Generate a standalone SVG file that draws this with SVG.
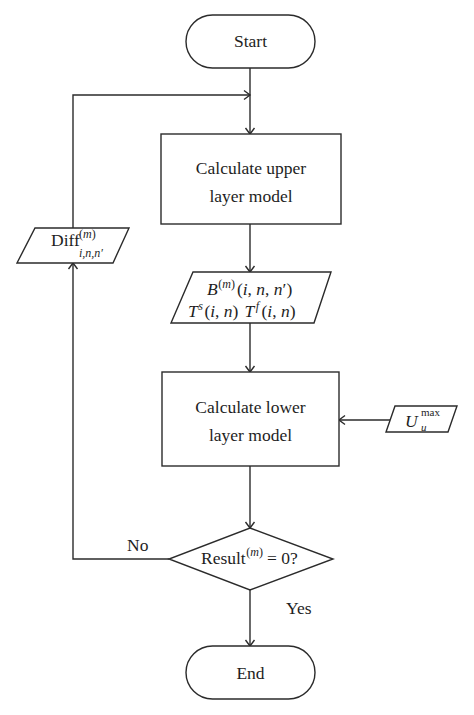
<svg xmlns="http://www.w3.org/2000/svg" width="474" height="715" viewBox="0 0 474 715">
<defs>
<style>
.s{fill:#fff;stroke:#2b2b2b;stroke-width:1.4}
.c{fill:none;stroke:#2b2b2b;stroke-width:1.4}
text{font-family:"Liberation Serif","Times New Roman",serif;font-size:17.5px;fill:#1e1e1e}
.i{font-style:italic}
.sm{font-size:12px}
.xs{font-size:11px}
</style>
<marker id="a" markerUnits="userSpaceOnUse" markerWidth="12" markerHeight="12" refX="9" refY="6" orient="auto">
<path d="M3,1.5 L9,6 L3,10.5" fill="none" stroke="#2b2b2b" stroke-width="1.4"/>
</marker>
</defs>
<rect width="474" height="715" fill="#fff"/>
<g id="connectors">
<path class="c" d="M250,68 V134" marker-end="url(#a)"/>
<path class="c" d="M169,559 H73 V263" marker-end="url(#a)"/>
<path class="c" d="M73,228 V95 H250" marker-end="url(#a)"/>
<path class="c" d="M250,224 V272" marker-end="url(#a)"/>
<path class="c" d="M250,323 V372" marker-end="url(#a)"/>
<path class="c" d="M391,420 H339" marker-end="url(#a)"/>
<path class="c" d="M250,466 V528" marker-end="url(#a)"/>
<path class="c" d="M250,590 V646" marker-end="url(#a)"/>
<text x="127" y="551">No</text>
<text x="286" y="614">Yes</text>
</g>
<g id="start">
<rect class="s" x="186" y="15" width="129" height="53" rx="26.5"/>
<text x="250.5" y="47" text-anchor="middle">Start</text>
</g>
<g id="upper">
<rect class="s" x="161" y="134" width="180" height="90"/>
<text x="251" y="174" text-anchor="middle">Calculate upper</text>
<text x="251" y="202" text-anchor="middle">layer model</text>
</g>
<g id="bparam">
<polygon class="s" points="193,272 331,272 314,323 171,323"/>
<text x="207" y="295"><tspan class="i">B</tspan><tspan class="sm" dy="-7" dx="0.5">(<tspan class="i">m</tspan>)</tspan><tspan dy="7" dx="2">(<tspan class="i">i</tspan>, <tspan class="i">n</tspan>, <tspan class="i">n</tspan>′)</tspan></text>
<text x="188" y="317"><tspan class="i">T</tspan><tspan class="sm i" dy="-7" dx="0.5">s</tspan><tspan dy="7" dx="1.5">(<tspan class="i">i</tspan>, <tspan class="i">n</tspan>)</tspan><tspan dx="6" class="i">T</tspan><tspan class="sm i" dy="-7" dx="1.5">f</tspan><tspan dy="7" dx="2.5">(<tspan class="i">i</tspan>, <tspan class="i">n</tspan>)</tspan></text>
</g>
<g id="diff">
<polygon class="s" points="35,228 129,228 113,263 17,263"/>
<text x="51" y="246">Diff</text>
<text x="79" y="238" class="sm">(<tspan class="i">m</tspan>)</text>
<text x="79" y="257" class="sm i">i,n,n′</text>
</g>
<g id="lower">
<rect class="s" x="162" y="372" width="177" height="94"/>
<text x="250.5" y="413" text-anchor="middle">Calculate lower</text>
<text x="250.5" y="441" text-anchor="middle">layer model</text>
</g>
<g id="umax">
<polygon class="s" points="395,406 457,406 448,432 386,432"/>
<text x="405" y="427" class="i">U</text>
<text x="421" y="416" class="xs">max</text>
<text x="421" y="431" class="xs i">u</text>
</g>
<g id="decision">
<polygon class="s" points="250,528 333,559 250,590 169,559"/>
<text x="201" y="564">Result<tspan class="sm" dy="-8" dx="0.5">(<tspan class="i">m</tspan>)</tspan><tspan dy="8" dx="4">= 0?</tspan></text>
</g>
<g id="end">
<rect class="s" x="186" y="646" width="129" height="53" rx="26.5"/>
<text x="250.5" y="679" text-anchor="middle">End</text>
</g>
</svg>
